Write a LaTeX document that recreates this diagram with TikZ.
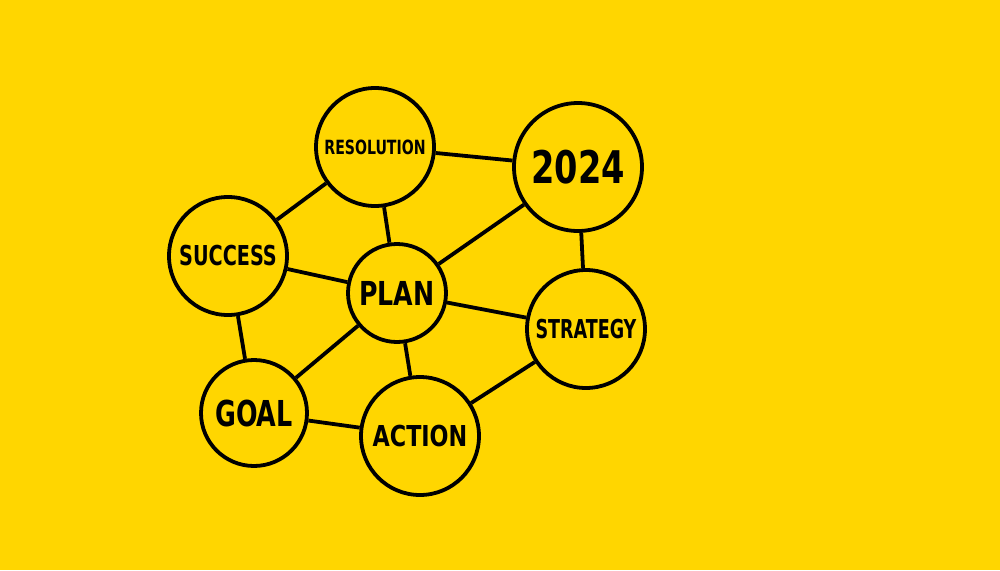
\documentclass[tikz,border=0pt]{standalone}
\usepackage{fontspec}
\usepackage{graphicx}
\setmainfont{DejaVu Sans Condensed}
\definecolor{bgyellow}{RGB}{255,214,0}
\newcommand{\lbl}[3]{\scalebox{#1}[1]{\fontsize{#2}{#2}\selectfont #3}}
\tikzset{
  bubble/.style={circle, draw=black, line width=3.8pt, fill=bgyellow, inner sep=0pt, font=\bfseries},
  link/.style={draw=black, line width=3.8pt}
}
\begin{document}
\begin{tikzpicture}[x=1pt,y=-1pt]
\fill[bgyellow] (0,0) rectangle (1000,570);
\useasboundingbox (0,0) rectangle (1000,570);
\node[bubble, minimum size=118pt] (res) at (375,147) {\lbl{0.80}{19.6}{RESOLUTION}};
\node[bubble, minimum size=128pt] (y24) at (578,167) {\lbl{0.83}{45}{2024}};
\node[bubble, minimum size=118pt] (suc) at (228,256) {\lbl{0.78}{27.4}{SUCCESS}};
\node[bubble, minimum size=98pt] (plan) at (397,293) {\lbl{0.85}{33}{PLAN}};
\node[bubble, minimum size=118pt] (str) at (586,329) {\lbl{0.75}{26}{STRATEGY}};
\node[bubble, minimum size=106pt] (goal) at (254,413) {\lbl{0.79}{35.7}{GOAL}};
\node[bubble, minimum size=118pt] (act) at (420,436) {\lbl{0.86}{28.8}{ACTION}};
\draw[link] (res) -- (y24);
\draw[link] (res) -- (suc);
\draw[link] (res) -- (plan);
\draw[link] (y24) -- (plan);
\draw[link] (y24) -- (str);
\draw[link] (suc) -- (plan);
\draw[link] (suc) -- (goal);
\draw[link] (plan) -- (str);
\draw[link] (plan) -- (goal);
\draw[link] (plan) -- (act);
\draw[link] (goal) -- (act);
\draw[link] (act) -- (str);
\end{tikzpicture}
\end{document}
